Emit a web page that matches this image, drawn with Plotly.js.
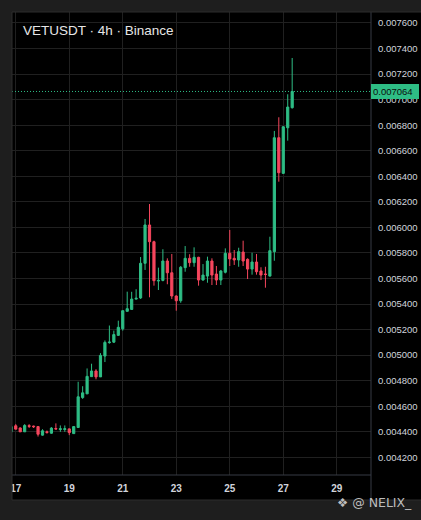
<!DOCTYPE html>
<html>
<head>
<meta charset="utf-8">
<script src="https://cdn.plot.ly/plotly-3.0.1.min.js"></script>
<style>
  html, body { margin:0; padding:0; background:#1e1e1e; }
  #chart { width:421px; height:520px; }
</style>
</head>
<body>
<div id="chart"></div>
<script>
// ---- data ----
const times = [
  '2020-01-16 20:00',
  '2020-01-17 00:00','2020-01-17 04:00','2020-01-17 08:00','2020-01-17 12:00','2020-01-17 16:00','2020-01-17 20:00',
  '2020-01-18 00:00','2020-01-18 04:00','2020-01-18 08:00','2020-01-18 12:00','2020-01-18 16:00','2020-01-18 20:00',
  '2020-01-19 00:00','2020-01-19 04:00','2020-01-19 08:00','2020-01-19 12:00','2020-01-19 16:00','2020-01-19 20:00',
  '2020-01-20 00:00','2020-01-20 04:00','2020-01-20 08:00','2020-01-20 12:00','2020-01-20 16:00','2020-01-20 20:00',
  '2020-01-21 00:00','2020-01-21 04:00','2020-01-21 08:00','2020-01-21 12:00','2020-01-21 16:00','2020-01-21 20:00',
  '2020-01-22 00:00','2020-01-22 04:00','2020-01-22 08:00','2020-01-22 12:00','2020-01-22 16:00','2020-01-22 20:00',
  '2020-01-23 00:00','2020-01-23 04:00','2020-01-23 08:00','2020-01-23 12:00','2020-01-23 16:00','2020-01-23 20:00',
  '2020-01-24 00:00','2020-01-24 04:00','2020-01-24 08:00','2020-01-24 12:00','2020-01-24 16:00','2020-01-24 20:00',
  '2020-01-25 00:00','2020-01-25 04:00','2020-01-25 08:00','2020-01-25 12:00','2020-01-25 16:00','2020-01-25 20:00',
  '2020-01-26 00:00','2020-01-26 04:00','2020-01-26 08:00','2020-01-26 12:00','2020-01-26 16:00','2020-01-26 20:00',
  '2020-01-27 00:00','2020-01-27 04:00','2020-01-27 08:00'
];
const open = [
  0.004400,
  0.004447,0.004430,0.004400,0.004448,0.004445,0.004441,
  0.004374,0.004400,0.004389,0.004426,0.004418,0.004418,
  0.004423,0.004386,0.004434,0.004668,0.004697,0.004832,
  0.004876,0.004830,0.004993,0.005098,0.005102,0.005155,
  0.005206,0.005343,0.005358,0.005439,0.005448,0.005719,
  0.006019,0.005888,0.005580,0.005585,0.005737,0.005645,
  0.005463,0.005426,0.005685,0.005758,0.005724,0.005766,
  0.005588,0.005619,0.005737,0.005635,0.005588,0.005649,
  0.005797,0.005758,0.005745,0.005807,0.005750,0.005674,
  0.005729,0.005659,0.005635,0.005619,0.005810,0.006702,
  0.006423,0.006780,0.006937
];
const high = [
  0.004450,
  0.004460,0.004435,0.004460,0.004460,0.004448,0.004445,
  0.004420,0.004410,0.004437,0.004466,0.004450,0.004450,
  0.004426,0.004445,0.004792,0.004757,0.004896,0.004933,
  0.004890,0.005016,0.005115,0.005232,0.005192,0.005270,
  0.005351,0.005497,0.005496,0.005516,0.005768,0.006066,
  0.006183,0.005896,0.005685,0.005829,0.005758,0.005792,
  0.005468,0.005698,0.005854,0.005790,0.005844,0.005770,
  0.005713,0.005771,0.005758,0.005698,0.005667,0.005836,
  0.005980,0.005823,0.005841,0.005896,0.005758,0.005802,
  0.005792,0.005688,0.005692,0.005927,0.006755,0.006862,
  0.006792,0.007042,0.007326
];
const low = [
  0.004390,
  0.004420,0.004400,0.004400,0.004430,0.004430,0.004363,
  0.004370,0.004385,0.004385,0.004420,0.004400,0.004400,
  0.004374,0.004383,0.004430,0.004658,0.004697,0.004832,
  0.004811,0.004830,0.004946,0.005090,0.005095,0.005150,
  0.005192,0.005343,0.005354,0.005436,0.005440,0.005667,
  0.005453,0.005544,0.005510,0.005578,0.005555,0.005439,
  0.005348,0.005410,0.005653,0.005692,0.005692,0.005544,
  0.005583,0.005567,0.005549,0.005549,0.005549,0.005640,
  0.005698,0.005706,0.005692,0.005698,0.005596,0.005630,
  0.005630,0.005588,0.005528,0.005615,0.005739,0.006358,
  0.006418,0.006679,0.006930
];
const close = [
  0.004440,
  0.004421,0.004400,0.004450,0.004443,0.004440,0.004381,
  0.004408,0.004395,0.004429,0.004422,0.004424,0.004424,
  0.004394,0.004441,0.004674,0.004705,0.004834,0.004876,
  0.004830,0.004998,0.005100,0.005102,0.005161,0.005218,
  0.005348,0.005364,0.005439,0.005445,0.005719,0.006019,
  0.005888,0.005583,0.005585,0.005737,0.005645,0.005463,
  0.005426,0.005688,0.005758,0.005724,0.005766,0.005588,
  0.005627,0.005737,0.005627,0.005588,0.005659,0.005797,
  0.005753,0.005745,0.005810,0.005737,0.005674,0.005729,
  0.005653,0.005627,0.005632,0.005818,0.006702,0.006428,
  0.006788,0.006942,0.007064
];
const lastPrice = 0.007064;
const lastPriceLabel = '0.007064';
const xTickVals = ['2020-01-17','2020-01-19','2020-01-21','2020-01-23','2020-01-25','2020-01-27','2020-01-29'];
const xTickText = ['17','19','21','23','25','27','29'];
const titleText = 'VETUSDT · 4h · Binance';
const watermark = '❖ @ NELIX_';

// ---- styling ----
const UP = '#2ebd85', DOWN = '#f6465d';
const OUTER = '#1e1e1e', GRID = '#202020', SEP = '#363a45', TXT = '#d1d4dc';

// pixel helpers for paper coords (plot area: x 12..371, y 12..475)
const px = v => (v - 12) / 359;
const py = v => (475 - v) / 463;

const trace = {
  type: 'candlestick',
  x: times, open: open, high: high, low: low, close: close,
  increasing: { line: { color: UP, width: 1 }, fillcolor: UP },
  decreasing: { line: { color: DOWN, width: 1 }, fillcolor: DOWN },
  whiskerwidth: 0,
  hoverinfo: 'skip'
};

const layout = {
  width: 421, height: 520,
  margin: { l: 12, r: 50, t: 12, b: 45, pad: 0 },
  paper_bgcolor: '#000000',
  plot_bgcolor: '#000000',
  showlegend: false,
  font: { family: 'Liberation Sans, Arial, sans-serif', color: TXT },
  xaxis: {
    type: 'date',
    range: ['2020-01-16 20:38', '2020-01-30 06:43'],
    rangeslider: { visible: false },
    tickvals: xTickVals, ticktext: xTickText,
    showgrid: true, gridcolor: GRID, gridwidth: 1,
    zeroline: false, showline: false, ticks: '',
    tickfont: { family: 'Liberation Sans, Arial, sans-serif', size: 10, color: TXT, weight: 'bold' },
    ticklabelstandoff: 6,
    fixedrange: true
  },
  yaxis: {
    side: 'right',
    range: [0.004062, 0.007686],
    dtick: 0.0002, tick0: 0,
    tickformat: '.6f',
    showgrid: true, gridcolor: GRID, gridwidth: 1,
    zeroline: false, showline: false, ticks: '',
    tickfont: { family: 'Liberation Sans, Arial, sans-serif', size: 9.5, color: TXT },
    ticklabelstandoff: 6,
    fixedrange: true
  },
  shapes: [
    // last price dotted line
    { type: 'line', xref: 'paper', yref: 'y', x0: 0, x1: 1, y0: lastPrice, y1: lastPrice,
      line: { color: UP, width: 1, dash: '1px,2px' }, layer: 'above' },
    // axis separators
    { type: 'line', xref: 'paper', yref: 'paper', x0: 1, x1: 1, y0: py(12), y1: py(500),
      line: { color: SEP, width: 1 }, layer: 'above' },
    { type: 'line', xref: 'paper', yref: 'paper', x0: px(12), x1: 1, y0: 0, y1: 0,
      line: { color: SEP, width: 1 }, layer: 'above' },
    // outer grey frame
    { type: 'rect', xref: 'paper', yref: 'paper', x0: px(0), x1: px(12), y0: py(0), y1: py(520),
      fillcolor: OUTER, line: { width: 0 }, layer: 'above' },
    { type: 'rect', xref: 'paper', yref: 'paper', x0: px(0), x1: px(421), y0: py(0), y1: py(12),
      fillcolor: OUTER, line: { width: 0 }, layer: 'above' },
    { type: 'rect', xref: 'paper', yref: 'paper', x0: px(0), x1: px(421), y0: py(500), y1: py(520),
      fillcolor: OUTER, line: { width: 0 }, layer: 'above' },
    // faint panel border
    { type: 'rect', xref: 'paper', yref: 'paper', x0: px(12), x1: px(422), y0: py(12), y1: py(500),
      fillcolor: 'rgba(0,0,0,0)', line: { color: '#2c2c2c', width: 1 }, layer: 'above' }
  ],
  annotations: [
    { text: titleText, xref: 'paper', yref: 'paper', x: px(21), y: py(30),
      xanchor: 'left', yanchor: 'middle', showarrow: false,
      font: { family: 'Liberation Sans, Arial, sans-serif', size: 13.5, color: '#e6e6e6' } },
    { text: lastPriceLabel, xref: 'paper', yref: 'y', x: 1, y: lastPrice,
      xanchor: 'left', yanchor: 'middle', showarrow: false, align: 'left',
      bgcolor: UP, width: 44, height: 11, borderpad: 2, borderwidth: 0,
      font: { family: 'Liberation Sans, Arial, sans-serif', size: 9.5, color: '#0d0d0d' } },
    { text: watermark, xref: 'paper', yref: 'paper', x: px(414), y: py(503),
      xanchor: 'right', yanchor: 'middle', showarrow: false,
      font: { family: 'DejaVu Sans, sans-serif', size: 12.5, color: '#bdbdbd' } }
  ]
};

Plotly.newPlot('chart', [trace], layout, { staticPlot: true, displayModeBar: false });
</script>
</body>
</html>
